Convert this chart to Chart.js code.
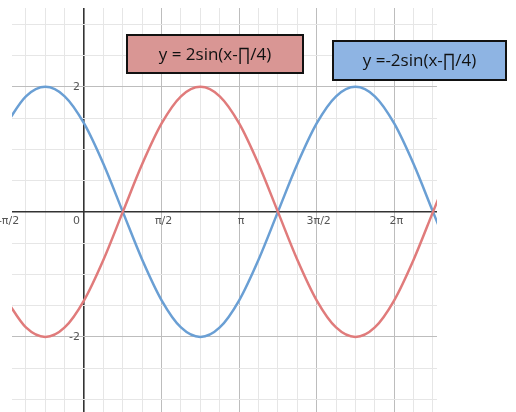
<!DOCTYPE html>
<html>
<head>
<meta charset="utf-8">
<script src="https://cdn.jsdelivr.net/npm/chart.js@4/dist/chart.umd.min.js"></script>
<style>
  html, body { margin: 0; padding: 0; background: #fff; }
  #wrap { width: 516px; height: 412px; }
</style>
</head>
<body>
<div id="wrap"><canvas id="c"></canvas></div>
<script>
// x en radians (pas de π/8)
const xs = [-1.571, -1.178, -0.785, -0.393, 0, 0.393, 0.785, 1.178, 1.571, 1.963, 2.356, 2.749,
  3.142, 3.534, 3.927, 4.320, 4.712, 5.105, 5.498, 5.890, 6.283, 6.676, 7.069, 7.461];
// y = 2sin(x-π/4)
const redY = [-1.414, -1.848, -2, -1.848, -1.414, -0.765, 0, 0.765, 1.414, 1.848, 2, 1.848,
  1.414, 0.765, 0, -0.765, -1.414, -1.848, -2, -1.848, -1.414, -0.765, 0, 0.765];
// y = -2sin(x-π/4)
const blueY = [1.414, 1.848, 2, 1.848, 1.414, 0.765, 0, -0.765, -1.414, -1.848, -2, -1.848,
  -1.414, -0.765, 0, 0.765, 1.414, 1.848, 2, 1.848, 1.414, 0.765, 0, -0.765];
const xTickLabels = ['-π/2', '0', 'π/2', 'π', '3π/2', '2π'];
const xTickValues = [-1.5708, 0, 1.5708, 3.1416, 4.7124, 6.2832];
const yTickLabels = ['2', '-2'];
const yTickValues = [2, -2];

const toPts = ys => xs.map((x, i) => ({ x: x, y: ys[i] }));

function stepTicks(scale, step) {
  const t = [];
  const start = Math.ceil(scale.min / step - 1e-6);
  for (let k = start; k * step <= scale.max + 1e-6; k++) t.push({ value: k * step });
  scale.ticks = t;
}

const overlay = {
  id: 'overlay',
  afterDraw(chart) {
    const { ctx, scales: { x, y } } = chart;
    const x0 = x.getPixelForValue(0), y0 = y.getPixelForValue(0);
    ctx.save();
    ctx.fillStyle = '#555';
    ctx.font = '11px "DejaVu Sans", sans-serif';
    ctx.textBaseline = 'top';
    xTickValues.forEach((v, i) => {
      const px = x.getPixelForValue(v);
      ctx.textAlign = v === 0 ? 'right' : 'center';
      ctx.fillText(xTickLabels[i], v === 0 ? px - 4 : px + 2, y0 + 4);
    });
    ctx.textAlign = 'right';
    ctx.textBaseline = 'middle';
    yTickValues.forEach((v, i) => {
      ctx.fillText(yTickLabels[i], x0 - 4, y.getPixelForValue(v));
    });
    // étiquettes
    const boxes = [
      { x: 127, y: 35, w: 176, h: 38, fill: '#d99694', text: 'y = 2sin(x-∏/4)' },
      { x: 333, y: 41, w: 173, h: 39, fill: '#8eb4e3', text: 'y =-2sin(x-∏/4)' }
    ];
    boxes.forEach(b => {
      ctx.fillStyle = b.fill;
      ctx.fillRect(b.x, b.y, b.w, b.h);
      ctx.strokeStyle = '#111';
      ctx.lineWidth = 2;
      ctx.strokeRect(b.x, b.y, b.w, b.h);
      ctx.fillStyle = '#111';
      ctx.font = '17px "Open Sans", sans-serif';
      ctx.textAlign = 'center';
      ctx.textBaseline = 'middle';
      ctx.fillText(b.text, b.x + b.w / 2, b.y + b.h / 2 + 1);
    });
    ctx.restore();
  }
};

new Chart(document.getElementById('c'), {
  type: 'scatter',
  data: {
    datasets: [
      { data: toPts(redY), showLine: true, borderColor: '#e07b7b', borderWidth: 2.5, pointRadius: 0, tension: 0.4, cubicInterpolationMode: 'monotone' },
      { data: toPts(blueY), showLine: true, borderColor: '#6a9fd4', borderWidth: 2.5, pointRadius: 0, tension: 0.4, cubicInterpolationMode: 'monotone' }
    ]
  },
  options: {
    responsive: true,
    maintainAspectRatio: false,
    animation: false,
    layout: { padding: { left: 12, right: 79, top: 8, bottom: 0 } },
    plugins: { legend: { display: false }, tooltip: { enabled: false } },
    scales: {
      x: {
        type: 'linear', min: -1.46, max: 7.15,
        afterBuildTicks: s => stepTicks(s, Math.PI / 8),
        ticks: { display: false },
        border: { display: false },
        grid: {
          drawTicks: false,
          color: c => Math.abs(c.tick.value) < 1e-6 ? '#333' : (Math.round(c.tick.value / (Math.PI / 8)) % 4 === 0 ? '#bdbdbd' : '#e6e6e6'),
          lineWidth: c => Math.abs(c.tick.value) < 1e-6 ? 1.6 : 1
        }
      },
      y: {
        type: 'linear', min: -3.2, max: 3.26,
        afterBuildTicks: s => stepTicks(s, 0.5),
        ticks: { display: false },
        border: { display: false },
        grid: {
          drawTicks: false,
          color: c => Math.abs(c.tick.value) < 1e-6 ? '#333' : (Math.round(c.tick.value * 2) % 4 === 0 ? '#bdbdbd' : '#e6e6e6'),
          lineWidth: c => Math.abs(c.tick.value) < 1e-6 ? 1.6 : 1
        }
      }
    }
  },
  plugins: [overlay]
});
</script>
</body>
</html>
